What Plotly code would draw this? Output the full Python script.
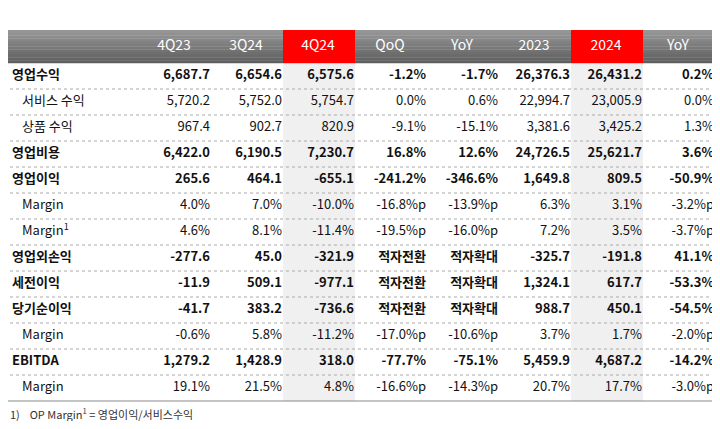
import plotly.graph_objects as go

columns = ["4Q23", "3Q24", "4Q24", "QoQ", "YoY", "2023", "2024", "YoY"]
row_labels = ["영업수익", "서비스 수익", "상품 수익", "영업비용", "영업이익", "Margin", "Margin<sup>1</sup>",
              "영업외손익", "세전이익", "당기순이익", "Margin", "EBITDA", "Margin"]
bold_rows = [True, False, False, True, True, False, False, True, True, True, False, True, False]
col_4q23 = ["6,687.7", "5,720.2", "967.4", "6,422.0", "265.6", "4.0%", "4.6%", "-277.6", "-11.9", "-41.7", "-0.6%", "1,279.2", "19.1%"]
col_3q24 = ["6,654.6", "5,752.0", "902.7", "6,190.5", "464.1", "7.0%", "8.1%", "45.0", "509.1", "383.2", "5.8%", "1,428.9", "21.5%"]
col_4q24 = ["6,575.6", "5,754.7", "820.9", "7,230.7", "-655.1", "-10.0%", "-11.4%", "-321.9", "-977.1", "-736.6", "-11.2%", "318.0", "4.8%"]
col_qoq = ["-1.2%", "0.0%", "-9.1%", "16.8%", "-241.2%", "-16.8%p", "-19.5%p", "적자전환", "적자전환", "적자전환", "-17.0%p", "-77.7%", "-16.6%p"]
col_yoy = ["-1.7%", "0.6%", "-15.1%", "12.6%", "-346.6%", "-13.9%p", "-16.0%p", "적자확대", "적자확대", "적자확대", "-10.6%p", "-75.1%", "-14.3%p"]
col_2023 = ["26,376.3", "22,994.7", "3,381.6", "24,726.5", "1,649.8", "6.3%", "7.2%", "-325.7", "1,324.1", "988.7", "3.7%", "5,459.9", "20.7%"]
col_2024 = ["26,431.2", "23,005.9", "3,425.2", "25,621.7", "809.5", "3.1%", "3.5%", "-191.8", "617.7", "450.1", "1.7%", "4,687.2", "17.7%"]
col_yoy_y = ["0.2%", "0.0%", "1.3%", "3.6%", "-50.9%", "-3.2%p", "-3.7%p", "41.1%", "-53.3%", "-54.5%", "-2.0%p", "-14.2%", "-3.0%p"]
col_data = [col_4q23, col_3q24, col_4q24, col_qoq, col_yoy, col_2023, col_2024, col_yoy_y]
highlight = [False, False, True, False, False, False, True, False]

FONT = "Noto Sans CJK KR"
col_right = [210, 282, 354, 426, 498, 570, 642, 714]
col_w = 72
header_top, header_bot = 30, 63
row_h = 26.0
row_y = [header_bot + row_h * (i + 0.5) for i in range(len(row_labels))]
table_bot = header_bot + row_h * len(row_labels)

fig = go.Figure()
shapes = []
for j, h in enumerate(highlight):
    if h:
        shapes.append(dict(type="rect", xref="x", yref="y", x0=col_right[j] - col_w + 1, x1=col_right[j] + 1,
                           y0=header_bot, y1=table_bot, fillcolor="#f0f0f0", line_width=0, layer="below"))
steps = 12
for k in range(steps):
    y0 = header_top + (header_bot - header_top) * k / steps
    y1 = header_top + (header_bot - header_top) * (k + 1) / steps
    g = int(150 - 55 * k / (steps - 1))
    shapes.append(dict(type="rect", xref="x", yref="y", x0=4, x1=718, y0=y0, y1=y1 + 0.3,
                       fillcolor=f"rgb({g},{g},{g})", line_width=0, layer="below"))
for j, h in enumerate(highlight):
    if h:
        shapes.append(dict(type="rect", xref="x", yref="y", x0=col_right[j] - col_w + 1, x1=col_right[j] + 1,
                           y0=header_top, y1=header_bot, fillcolor="#ff0000", line_width=0, layer="below"))
for i in range(1, len(row_labels)):
    y = header_bot + row_h * i
    shapes.append(dict(type="line", xref="x", yref="y", x0=4, x1=718, y0=y, y1=y,
                       line=dict(color="#aaaaaa", width=1, dash="dot")))
shapes.append(dict(type="line", xref="x", yref="y", x0=4, x1=718, y0=table_bot, y1=table_bot,
                   line=dict(color="#888888", width=1)))

fig.add_trace(go.Scatter(x=[r - col_w / 2 for r in col_right], y=[(header_top + header_bot) / 2] * len(columns),
                         mode="text", text=columns, textposition="middle center",
                         textfont=dict(family=FONT, size=14, color="white"), hoverinfo="skip"))
lab_text = [f"<b>{l}</b>" if b else l for l, b in zip(row_labels, bold_rows)]
lab_x = [12 if b else 22 for b in bold_rows]
fig.add_trace(go.Scatter(x=lab_x, y=row_y, mode="text", text=lab_text, textposition="middle right",
                         textfont=dict(family=FONT, size=13, color="#111111"), hoverinfo="skip"))
for j, col in enumerate(col_data):
    txt = [f"<b>{v}</b>" if b else v for v, b in zip(col, bold_rows)]
    fig.add_trace(go.Scatter(x=[col_right[j]] * len(col), y=row_y, mode="text", text=txt,
                             textposition="middle left",
                             textfont=dict(family=FONT, size=13, color="#111111"), hoverinfo="skip"))

fig.add_annotation(x=714, y=17, xref="x", yref="y", text="(단위: 십억원)", showarrow=False, xanchor="right",
                   font=dict(family=FONT, size=11, color="#333333"))
fig.add_annotation(x=8, y=413, xref="x", yref="y", text="1)    OP Margin<sup>1</sup> = 영업이익/서비스수익",
                   showarrow=False, xanchor="left", font=dict(family=FONT, size=11, color="#333333"))

# page body has an 8px margin, so the figure is 704x413 covering coordinates 8..712 / 8..421
fig.update_layout(width=704, height=413, margin=dict(l=0, r=0, t=0, b=0), showlegend=False,
                  plot_bgcolor="white", paper_bgcolor="white", shapes=shapes,
                  xaxis=dict(range=[8, 712], visible=False, fixedrange=True),
                  yaxis=dict(range=[421, 8], visible=False, fixedrange=True))
fig.write_html("out.html")
